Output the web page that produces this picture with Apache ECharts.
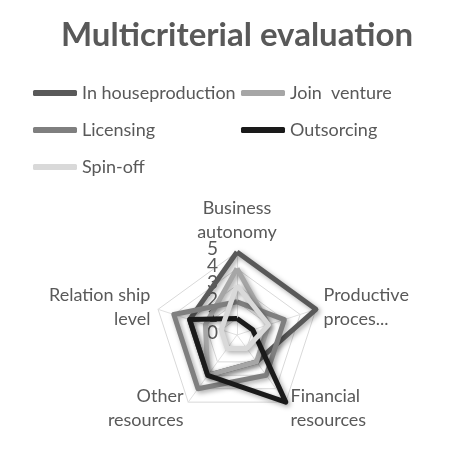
<!DOCTYPE html>
<html><head><meta charset="utf-8">
<script src="https://cdn.jsdelivr.net/npm/echarts@6/dist/echarts.min.js"></script>
<style>html,body{margin:0;padding:0;background:#fff}#c{width:474px;height:474px}</style>
</head><body><div id="c"></div>
<script>
var criteria = ['Business\nautonomy', 'Productive\nproces...', 'Financial\nresources', 'Other\nresources', 'Relation ship\nlevel'];
var seriesNames = ['In houseproduction', 'Join  venture', 'Licensing', 'Outsorcing', 'Spin-off'];
var inHouse = [5, 5, 2, 3, 3];
var joinVenture = [4, 2, 2, 3, 2];
var licensing = [2, 3, 3, 4, 4];
var outsorcing = [1, 1, 5, 3, 3];
var spinOff = [3, 2, 1, 1, 1];
var tickLabels = ['0', '1', '2', '3', '4', '5'];
var axisMin = 0, axisMax = 5;
var colors = ['#595959', '#a6a6a6', '#7f7f7f', '#1a1a1a', '#d9d9d9'];
var values = [inHouse, joinVenture, licensing, outsorcing, spinOff];

// ECharts lays radar indicators out counter-clockwise; reorder to get clockwise order
var order = [0, 4, 3, 2, 1];
function reorder(arr) { return order.map(function (k) { return arr[k]; }); }

var chart = echarts.init(document.getElementById('c'));
var FONT = 'Lato';
var legendText = {color: '#595959', fontSize: 18, fontFamily: FONT, lineHeight: 20};
chart.setOption({
  animation: false,
  title: {text: 'Multicriterial evaluation', left: 'center', top: 14,
    textStyle: {color: '#595959', fontSize: 33, fontWeight: 'bold', fontFamily: FONT}},
  legend: [
    {data: [seriesNames[0], seriesNames[2], seriesNames[4]], orient: 'vertical', left: 28, top: 78,
     itemWidth: 44, itemHeight: 6, itemGap: 17, icon: 'roundRect', textStyle: legendText},
    {data: [seriesNames[1], seriesNames[3]], orient: 'vertical', left: 236, top: 78,
     itemWidth: 44, itemHeight: 6, itemGap: 17, icon: 'roundRect', textStyle: legendText}
  ],
  grid: {left: 220, top: 249, width: 1, height: 84},
  xAxis: {type: 'value', show: false},
  yAxis: {type: 'category', data: tickLabels, boundaryGap: false,
    axisLine: {show: false}, axisTick: {show: false}, splitLine: {show: false},
    axisLabel: {color: '#595959', fontSize: 19, fontFamily: FONT, margin: 2, interval: 0}},
  radar: {
    center: [237, 335], radius: 83, startAngle: 90, splitNumber: 5, shape: 'polygon',
    indicator: reorder(criteria).map(function (n) { return {name: n, min: axisMin, max: axisMax}; }),
    axisName: {color: '#595959', fontSize: 18, fontFamily: FONT, lineHeight: 24},
    nameGap: 8,
    axisLine: {lineStyle: {color: '#e0e0e0', width: 1}},
    splitLine: {lineStyle: {color: '#d9d9d9', width: 1}},
    splitArea: {show: false}
  },
  series: [{
    type: 'radar', symbol: 'none',
    data: values.map(function (v, i) {
      return {name: seriesNames[i], value: reorder(v),
        lineStyle: {color: colors[i], width: 5, join: 'round', shadowBlur: 5,
          shadowColor: 'rgba(0,0,0,0.35)', shadowOffsetX: 2, shadowOffsetY: 2},
        itemStyle: {color: colors[i]}};
    })
  }]
});
</script></body></html>
